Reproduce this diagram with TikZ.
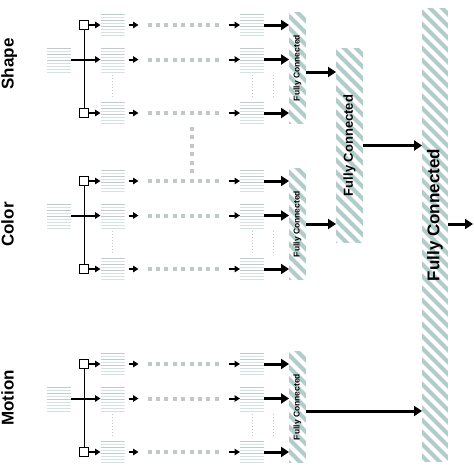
\documentclass[tikz,border=0pt]{standalone}
\usepackage{fontspec}
\setmainfont{Liberation Sans}
\usetikzlibrary{arrows.meta,calc}
\definecolor{fcfill}{RGB}{178,204,204}
\definecolor{stkA}{RGB}{192,202,202}
\definecolor{stkB}{RGB}{212,226,226}
\definecolor{dotc}{RGB}{192,200,200}
\begin{document}
\begin{tikzpicture}[x=1pt,y=-1pt,
  stack/.style={minimum width=24pt,minimum height=25pt,inner sep=0pt,outer sep=0pt,
    path picture={\foreach \i/\cc in {0/stkA,1/stkB,2/stkA,3/stkB,4/stkA,5/stkB,6/stkB,7/stkB,8/stkB}
      {\draw[\cc,line width=1pt] ($(path picture bounding box.north west)+(0,1.5+3*\i)$) -- ++(24,0);}}},
  sq/.style={draw=black,fill=white,line width=0.9pt,minimum size=9pt,inner sep=0pt,outer sep=0pt},
  fcbar/.style={inner sep=0pt,outer sep=0pt,
    path picture={\fill[fcfill] (path picture bounding box.north west) rectangle (path picture bounding box.south east);
      \foreach \k in {-40,-28,...,470}
      {\draw[white,line width=4pt] ($(path picture bounding box.north west)+(-2,\k)$) -- ++(40,40);}}},
  grouplab/.style={font=\bfseries\fontsize{17}{18}\selectfont,inner sep=0pt,rotate=90,anchor=north},
  fclab/.style={font=\bfseries,inner sep=0pt,rotate=90},
  arr/.style={-{Triangle[length=5.5pt,width=6.5pt]},line width=2pt},
  bigarr/.style={-{Triangle[length=8pt,width=10pt]},line width=3pt},
  vline/.style={line width=1pt},
  dotrow/.style={dotc,line width=4pt,dash pattern=on 4pt off 4.4pt},
  vdots/.style={dotc,line width=1pt,dash pattern=on 1pt off 2pt}]
\useasboundingbox (0,0) rectangle (474,474);
\foreach \g/\o/\lab/\ly in {A/0/Shape/64,B/156/Color/224.5,C/339/Motion/398}{
  \node[grouplab] (lab\g) at (1,\ly) {\lab};
  \node[stack] (in\g) at (59,59.5+\o) {};
  \node[stack] (a\g1) at (112.5,25+\o) {};
  \node[stack] (a\g2) at (112.5,59.5+\o) {};
  \node[stack] (a\g3) at (112.5,113+\o) {};
  \node[stack] (b\g1) at (252,25+\o) {};
  \node[stack] (b\g2) at (252,59.5+\o) {};
  \node[stack] (b\g3) at (252,113+\o) {};
  \node[sq] (q\g1) at (84,25+\o) {};
  \node[sq] (q\g3) at (84,113+\o) {};
  \node[fcbar,minimum width=17pt,minimum height=112pt] (fc\g) at (297.5,68+\o) {};
  \node[fclab,font=\bfseries\fontsize{8.5}{9}\selectfont] at (fc\g) {Fully Connected};
  \draw[vline] (q\g1.south) -- (q\g3.north);
  \draw[arr] (in\g) -- (a\g2);
  \draw[arr] (q\g1) -- (a\g1);
  \draw[arr] (q\g3) -- (a\g3);
  \foreach \r in {1,2,3}{
    \draw[arr] ($(a\g\r.east)+(4,0)$) -- ($(a\g\r.east)+(14,0)$);
    \draw[dotrow] ($(a\g\r.east)+(23,0)$) -- ($(b\g\r.west)+(-18,0)$);
    \draw[arr] ($(b\g\r.west)+(-11,0)$) -- (b\g\r.west);
    \draw[bigarr] (b\g\r.east) -- (b\g\r.east -| fc\g.west);
  }
  \draw[vdots] ($(a\g2.south)+(0,3)$) -- ($(a\g3.north)+(0,-3)$);
  \draw[vdots] ($(b\g2.south)+(0,3)$) -- ($(b\g3.north)+(0,-3)$);
  \draw[vdots] ($(b\g2.south east)+(9,3)$) -- ($(b\g3.north east)+(9,-3)$);
}
\coordinate (vd1) at (192,127);
\coordinate (vd2) at (192,173);
\draw[dotrow] (vd1) -- (vd2);
\node[fcbar,minimum width=27pt,minimum height=195pt] (mid) at (349.5,145.5) {};
\node[fclab,font=\bfseries\fontsize{13}{14}\selectfont] at (mid) {Fully Connected};
\node[fcbar,minimum width=26pt,minimum height=454pt] (big) at (435,235) {};
\node[fclab,font=\bfseries\fontsize{17}{18}\selectfont] at ($(big)+(0,-20)$) {Fully Connected};
\coordinate (sA) at ($(fcA.east)+(0,4)$);
\coordinate (sC) at ($(fcC.east)+(0,4)$);
\draw[bigarr] (sA) -- (sA -| mid.west);
\draw[bigarr] (fcB.east) -- (fcB.east -| mid.west);
\draw[bigarr] (sC) -- (sC -| big.west);
\draw[bigarr] (mid.east) -- (mid.east -| big.west);
\coordinate (out) at (473,224);
\draw[bigarr] (big.east |- out) -- (out);
\end{tikzpicture}
\end{document}
